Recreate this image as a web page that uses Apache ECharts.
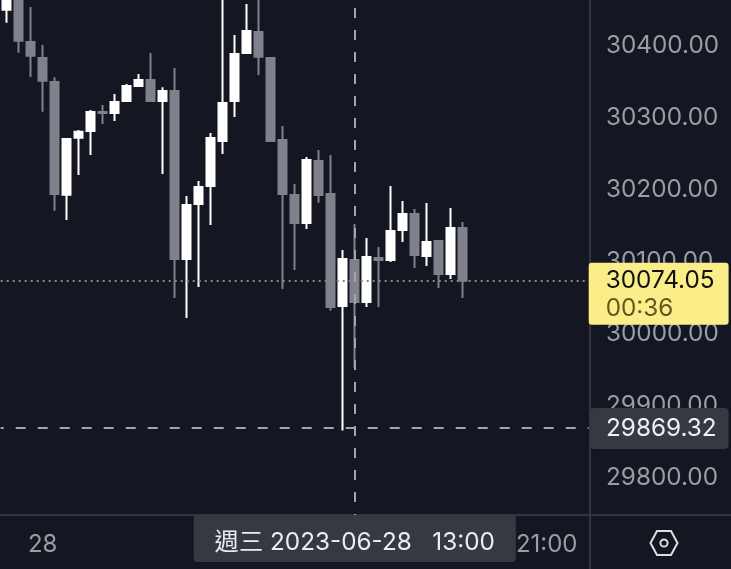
<!DOCTYPE html>
<html>
<head>
<meta charset="utf-8">
<style>html,body{margin:0;padding:0;background:#141621}#c{width:731px;height:569px}</style>
<script src="https://cdn.jsdelivr.net/npm/echarts@6/dist/echarts.min.js"></script>
</head>
<body>
<div id="c"></div>
<script>
const categories = ['06-27 22:30','06-27 23:00','06-27 23:30','06-28 00:00','00:30','01:00','01:30','02:00','02:30','03:00','03:30','04:00','04:30','05:00','05:30','06:00','06:30','07:00','07:30','08:00','08:30','09:00','09:30','10:00','10:30','11:00','11:30','12:00','12:30','13:00','13:30','14:00','14:30','15:00','15:30','16:00','16:30','17:00','17:30','18:00','18:30','19:00','19:30','20:00','20:30','21:00','21:30','22:00','22:30'];
const tickLabels = {3:'28',45:'21:00'};
// open, close, low, high
const candles = [
[30450.4,30491.7,30432.4,30519.4],
[30505.6,30407.4,30390.7,30526.4],
[30405.6,30386.5,30356.9,30454.2],
[30383.3,30351.8,30308.8,30401.4],
[30350.0,30194.5,30171.2,30356.5],
[30193.5,30270.9,30158.3,30272.2],
[30272.6,30281.0,30220.8,30283.3],
[30281.9,30308.3,30248.6,30311.1],
[30308.3,30306.9,30291.7,30318.1],
[30306.9,30322.2,30295.8,30333.3],
[30323.6,30344.4,30322.2,30347.2],
[30344.4,30352.8,30343.1,30361.1],
[30352.8,30323.6,30322.2,30390.3],
[30323.6,30337.5,30222.2,30342.6],
[30337.5,30104.2,30050.0,30369.4],
[30104.2,30179.2,30022.2,30191.7],
[30180.6,30204.2,30065.3,30212.5],
[30205.6,30272.2,30151.4,30279.2],
[30268.1,30320.8,30250.0,30505.6],
[30323.6,30388.9,30301.4,30415.3],
[30390.3,30420.8,30388.9,30458.3],
[30419.4,30385.2,30359.7,30491.7],
[30383.3,30268.1,30266.7,30384.7],
[30269.4,30194.5,30062.5,30288.9],
[30193.1,30154.2,30088.9,30208.3],
[30154.2,30241.7,30145.8,30245.8],
[30240.3,30193.1,30182.4,30255.6],
[30194.5,30037.5,30032.4,30248.6],
[30038.9,30104.2,29866.0,30116.7],
[30102.8,30044.4,29952.8,30152.8],
[30044.4,30106.9,30037.5,30133.3],
[30105.6,30102.8,30037.5,30120.8],
[30102.8,30143.1,30100.0,30205.6],
[30144.4,30166.7,30127.8,30184.7],
[30166.7,30109.7,30091.7,30173.6],
[30108.3,30127.8,30094.5,30182.0],
[30129.2,30083.3,30063.9,30130.6],
[30083.3,30147.2,30076.4,30175.0],
[30147.2,30074.05,30050.0,30155.6]
];
const priceTicks = [29800,29900,30000,30100,30200,30300,30400];
const lastPrice = 30074.05;
const countdown = '00:36';
const crossPrice = 29869.32;
const crossIndex = 29;
const crossLabel = '週三 2023-06-28   13:00';

const BG='#141621', LINE='#33353f', TXT='#9b9da5', GREY='#7f818b';
const FONT='Inter, "Noto Sans CJK TC", sans-serif';
const chart = echarts.init(document.getElementById('c'),null,{renderer:'canvas'});
chart.setOption({
  animation:false,
  backgroundColor:BG,
  grid:{left:0.7,top:0,width:588,height:515},
  xAxis:{
    type:'category',data:categories,boundaryGap:true,
    axisLine:{show:true,lineStyle:{color:LINE,width:2}},
    axisTick:{show:false},splitLine:{show:false},
    axisLabel:{color:TXT,fontFamily:FONT,fontSize:24,margin:18,
      interval:i=>tickLabels[i]!==undefined,
      formatter:(v,i)=>tickLabels[i]||''},
    axisPointer:{show:true,status:'show',value:crossIndex,type:'line',triggerOn:'none',triggerTooltip:false,
      lineStyle:{color:'#a3a5ad',width:2,type:[10,12],dashOffset:9},
      label:{show:true,margin:0,formatter:()=>crossLabel,color:'#ececee',fontFamily:FONT,fontSize:24.3,lineHeight:26,
        backgroundColor:'#363842',borderRadius:4,padding:[15,21,6,21]}}
  },
  yAxis:{
    type:'value',position:'right',offset:1.3,
    min:29748.6,max:30463.9,scale:true,
    axisLine:{show:true,lineStyle:{color:LINE,width:2}},
    axisTick:{show:false},splitLine:{show:false},
    axisLabel:{color:TXT,fontFamily:FONT,fontSize:24.3,margin:16,padding:[7,0,0,0],customValues:priceTicks,
      formatter:v=>v.toFixed(2)},
    axisPointer:{show:true,status:'show',value:crossPrice,type:'line',triggerOn:'none',triggerTooltip:false,
      lineStyle:{color:'#a3a5ad',width:2,type:[10,12],dashOffset:7},
      label:{show:true,margin:0,formatter:()=>crossPrice.toFixed(2),color:'#f0f0f2',fontFamily:FONT,fontSize:24.3,lineHeight:25,
        backgroundColor:'#363842',borderRadius:4,padding:[8,12,8,16]}}
  },
  series:[{
    type:'candlestick',data:candles,barWidth:8,
    itemStyle:{color:'#ffffff',color0:GREY,borderColor:'#ffffff',borderColor0:GREY,borderWidth:2},
    markLine:{
      silent:true,symbol:'none',animation:false,
      lineStyle:{color:'#8a8764',width:2,type:[2,4]},
      data:[{yAxis:lastPrice}],
      label:{show:true,position:'end',distance:0,offset:[0,13],
        formatter:()=>'{p|'+lastPrice.toFixed(2)+'}\n{t|'+countdown+'}',
        backgroundColor:'#fbee88',borderRadius:3,padding:[4,14,2,17],
        rich:{p:{color:'#111',fontFamily:FONT,fontSize:24.3,lineHeight:28},
              t:{color:'#5e5a22',fontFamily:FONT,fontSize:24.3,lineHeight:28}}}
    }
  }],
  graphic:[
    {type:'line',silent:true,z:1,shape:{x1:590,y1:515,x2:590,y2:569},style:{stroke:LINE,lineWidth:2}},
    {type:'line',silent:true,z:1,shape:{x1:590,y1:515,x2:731,y2:515},style:{stroke:LINE,lineWidth:2}},
    {type:'polygon',silent:true,shape:{points:[[650.5,543],[657,531],[671,531],[677.5,543],[671,555],[657,555]]},style:{fill:'none',stroke:'#dcdde0',lineWidth:2}},
    {type:'circle',silent:true,shape:{cx:664,cy:543,r:3.6},style:{fill:'none',stroke:'#dcdde0',lineWidth:2}}
  ]
});
</script>
</body>
</html>
